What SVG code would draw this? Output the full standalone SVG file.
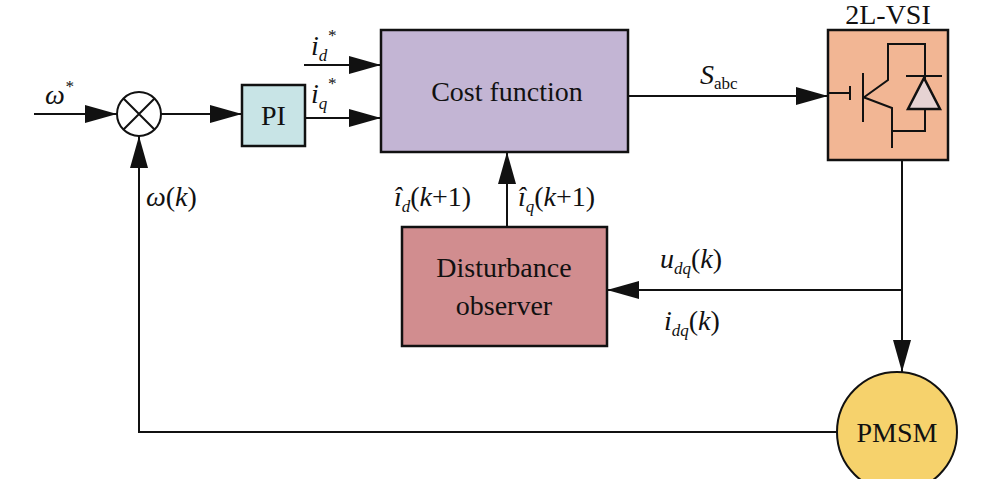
<svg xmlns="http://www.w3.org/2000/svg" width="996" height="479" viewBox="0 0 996 479">
<defs>
<marker id="a" markerWidth="34" markerHeight="18" refX="32" refY="9" orient="auto" markerUnits="userSpaceOnUse"><path d="M0,0 L32,9 L0,18 Z" fill="#111"/></marker>
<style>
.l{stroke:#111;stroke-width:2;fill:none}
text{font-family:"Liberation Serif","DejaVu Serif",serif;font-size:28px;fill:#111}
.i{font-style:italic}
.s{font-size:17px}
.b{stroke:#111;stroke-width:2.5}
</style>
</defs>
<rect width="996" height="479" fill="#fff"/>
<g id="connectors">
<path class="l" d="M34,114 H117" marker-end="url(#a)"/>
<path class="l" d="M161,114 H242" marker-end="url(#a)"/>
<path class="l" d="M305,118 H381" marker-end="url(#a)"/>
<path class="l" d="M304,65 H381" marker-end="url(#a)"/>
<path class="l" d="M628,96 H828" marker-end="url(#a)"/>
<path class="l" d="M507,227 V152" marker-end="url(#a)"/>
<path class="l" d="M902,160 V372" marker-end="url(#a)"/>
<path class="l" d="M902,290 H607" marker-end="url(#a)"/>
<path class="l" d="M838,432 H139 V136" marker-end="url(#a)"/>
</g>
<g id="sum"><circle cx="139" cy="114" r="22" class="l" fill="#fff"/><path class="l" d="M123.5,98.5 L154.5,129.5 M154.5,98.5 L123.5,129.5"/></g>
<g id="pi"><rect x="242" y="85" width="63" height="61" fill="#c8e4e6" class="b"/><text x="273.5" y="125" text-anchor="middle">PI</text></g>
<g id="cost"><rect x="381" y="30" width="247" height="122" fill="#c3b5d4" class="b"/><text x="507" y="101" text-anchor="middle">Cost function</text></g>
<g id="obs"><rect x="402" y="227" width="205" height="119" fill="#d18d8f" class="b"/><text x="504" y="277" text-anchor="middle">Disturbance</text><text x="504" y="315" text-anchor="middle">observer</text></g>
<g id="vsi"><rect x="828" y="30" width="120" height="130" fill="#f2b694" class="b"/>
<text x="888" y="24" text-anchor="middle" font-size="27">2L-VSI</text>
<path class="l" d="M828,93 H850 M850,86 V100 M863,73 V122 M863,98 L888,80 V44 H925 V131 H892 V148 M863,97 L892,108 V131"/>
<path d="M908,109 H940 L924,78 Z" fill="#e6d3d3" stroke="#111" stroke-width="2.5"/>
<path class="l" d="M906,76 H942"/>
</g>
<g id="pmsm"><circle cx="897" cy="432" r="60" fill="#f6d26c" stroke="#111" stroke-width="2"/><text x="897" y="442" text-anchor="middle">PMSM</text></g>
<g id="labels">
<text class="i" x="45" y="104">ω<tspan class="s" dy="-12">*</tspan></text>
<text class="i" x="311" y="55">i<tspan class="s" dy="6">d</tspan><tspan class="s" dy="-20">*</tspan></text>
<text class="i" x="311" y="103">i<tspan class="s" dy="6">q</tspan><tspan class="s" dy="-20">*</tspan></text>
<text x="146" y="206"><tspan class="i">ω</tspan>(<tspan class="i">k</tspan>)</text>
<text class="i" x="700" y="84">S<tspan class="s" dy="5" font-style="normal">abc</tspan></text>
<text x="394" y="206"><tspan class="i">î</tspan><tspan class="s i" dy="6">d</tspan><tspan dy="-6">(</tspan><tspan class="i">k</tspan>+1)</text>
<text x="518" y="206"><tspan class="i">î</tspan><tspan class="s i" dy="6">q</tspan><tspan dy="-6">(</tspan><tspan class="i">k</tspan>+1)</text>
<text x="660" y="268"><tspan class="i">u</tspan><tspan class="s i" dy="6">dq</tspan><tspan dy="-6">(</tspan><tspan class="i">k</tspan>)</text>
<text x="664" y="330"><tspan class="i">i</tspan><tspan class="s i" dy="6">dq</tspan><tspan dy="-6">(</tspan><tspan class="i">k</tspan>)</text>
</g>
</svg>
